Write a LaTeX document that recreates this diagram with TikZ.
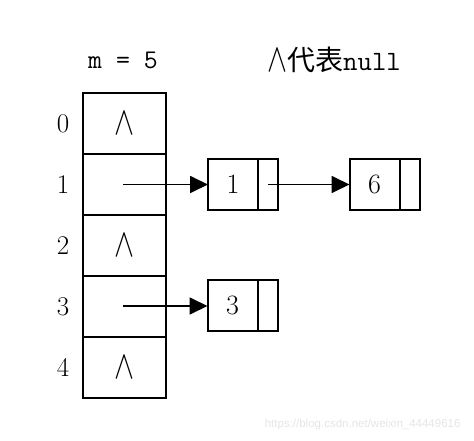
\documentclass[tikz,border=0pt]{standalone}
\usepackage{fontspec}
\newfontfamily\cjk{Noto Sans CJK SC}
\newfontfamily\wmfont{Liberation Sans}
\usetikzlibrary{arrows.meta}
\newcommand{\nullmark}{\scalebox{3}[4]{$\wedge$}}
\tikzset{
  cell/.style={draw, line width=2pt, minimum width=83pt, minimum height=61pt, inner sep=0pt, outer sep=0pt, anchor=center},
  dbox/.style={draw, line width=2pt, minimum width=50pt, minimum height=51pt, inner sep=0pt, outer sep=0pt, font=\fontsize{28}{32}\selectfont},
  pbox/.style={draw, line width=2pt, minimum width=20pt, minimum height=51pt, inner sep=0pt, outer sep=0pt, anchor=west},
  idx/.style={font=\fontsize{27}{32}\selectfont},
  arr/.style={line width=1.8pt, -{Triangle[length=18pt, width=17pt]}},
}
\begin{document}
\begin{tikzpicture}[x=1pt,y=-1pt]
\useasboundingbox (0,0) rectangle (474,441);
% header texts
\node[font=\ttfamily\fontsize{27}{32}\selectfont] (m) at (123,60) {m = 5};
\node[anchor=west, inner sep=0pt] (leg) at (267,60) {\raisebox{-1pt}{\nullmark}{\cjk\fontsize{28}{32}\selectfont 代表}{\ttfamily\fontsize{28}{32}\selectfont null}};
% array cells
\node[cell] (c0) at (124.5,123.5) {\nullmark};
\node[cell] (c1) at (124.5,184.5) {};
\node[cell] (c2) at (124.5,245.5) {\nullmark};
\node[cell] (c3) at (124.5,306.5) {};
\node[cell] (c4) at (124.5,367) {\nullmark};
% indices
\node[idx] (i0) at (63,123.5) {0};
\node[idx] (i1) at (63,184.5) {1};
\node[idx] (i2) at (63,245.5) {2};
\node[idx] (i3) at (63,306.5) {3};
\node[idx] (i4) at (63,367) {4};
% list nodes
\node[dbox] (n1) at (233,184.5) {1};
\node[pbox] (p1) at (n1.east) {};
\node[dbox] (n6) at (374.5,184.5) {6};
\node[pbox] (p6) at (n6.east) {};
\node[dbox] (n3) at (232.5,305.5) {3};
\node[pbox] (p3) at (n3.east) {};
% arrows
\coordinate (s1) at (123,184.5);
\coordinate (s3) at (123,306);
\draw[arr] (s1) -- (n1.west);
\draw[arr] (p1.center) -- (n6.west);
\draw[arr] (s3) -- (n3.west |- s3);
% watermark
\node[anchor=east, text=black!10, font=\wmfont\fontsize{11.5}{13}\selectfont] (wm) at (464,425) {https://blog.csdn.net/weixin\_44449616};
\end{tikzpicture}
\end{document}
